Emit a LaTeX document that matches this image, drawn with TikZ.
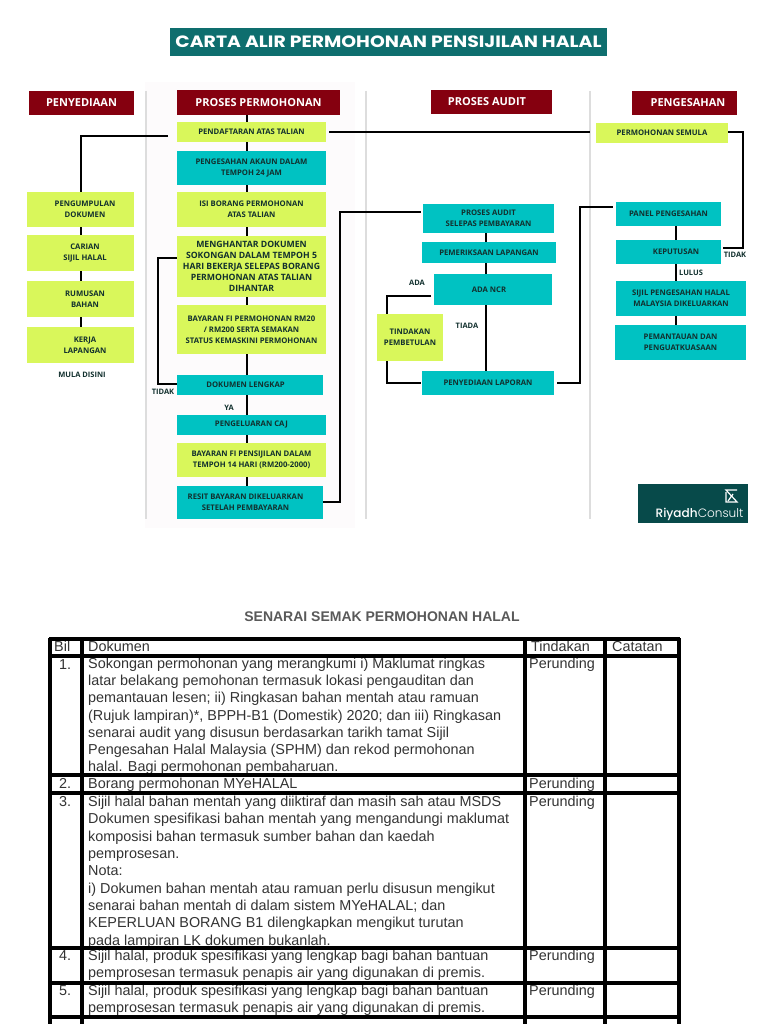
\documentclass[tikz,border=0pt]{standalone}
\usepackage{fontspec}
\setmainfont{Open Sans}
\newfontfamily\titlefont[FakeStretch=1.15]{Poppins}
\newfontfamily\logofont[UprightFont={* Light},BoldFont={* Medium}]{Poppins}
\newfontfamily\tablefont{Liberation Sans}
\definecolor{maroonbox}{HTML}{85000F}
\definecolor{titleteal}{HTML}{0E6E6E}
\definecolor{limebox}{HTML}{D9F75B}
\definecolor{cyanbox}{HTML}{00C2C2}
\definecolor{logoteal}{HTML}{074A4A}
\definecolor{darktext}{HTML}{12302E}
\definecolor{divider}{HTML}{DDDDDD}
\definecolor{panelback}{HTML}{FDFBFC}
\newcommand{\padr}[1]{\hspace*{#1}}
\tikzset{
  headbox/.style={fill=maroonbox,text=white,font=\bfseries\fontsize{11}{12}\selectfont,inner sep=0pt},
  flowbox/.style={text=darktext,font=\bfseries\fontsize{7.7}{11}\selectfont,align=center,inner sep=0pt},
  limestep/.style={flowbox,fill=limebox},
  cyanstep/.style={flowbox,fill=cyanbox},
  flowlabel/.style={text=darktext,font=\bfseries\fontsize{7.5}{9}\selectfont,inner sep=0pt},
  flowline/.style={line width=2pt,black},
  tabletext/.style={font=\tablefont\fontsize{14.4}{17.3}\selectfont,align=left,anchor=north west,inner sep=0pt,text opacity=0.8},
  tablehead/.style={tabletext,anchor=base west},
}
\begin{document}
\begin{tikzpicture}[x=1pt,y=-1pt]
    \useasboundingbox (0,0) rectangle (768,1024);
    \fill[white] (0,0) rectangle (768,1024);
    \fill[panelback] (145,82) rectangle (355,528);
    % dividers
    \foreach \x in {146,366,590}
        \draw[divider,line width=1.6pt] (\x,91) -- (\x,519);
    % title
    \node[fill=titleteal,text=white,font=\titlefont\bfseries\fontsize{16.4}{18}\selectfont,minimum width=437pt,minimum height=28pt,inner sep=0pt] (title) at (388.5,42) {CARTA ALIR PERMOHONAN PENSIJILAN HALAL};
    % headers
    \node[headbox,minimum width=105pt,minimum height=24pt] (penyediaan) at (81.5,103) {PENYEDIAAN};
    \node[headbox,minimum width=163pt,minimum height=25pt] (permohonan) at (258.5,102.5) {PROSES PERMOHONAN};
    \node[headbox,minimum width=121pt,minimum height=24pt] (audit) at (491.5,102) {PROSES AUDIT\padr{9pt}};
    \node[headbox,minimum width=105pt,minimum height=24pt] (pengesahan) at (684.5,103) {\padr{7pt}PENGESAHAN};
    % penyediaan
    \node[limestep,minimum width=107pt,minimum height=35pt] (pengumpulan) at (80.5,209.5) {\padr{9pt}PENGUMPULAN\\\padr{9pt}DOKUMEN};
    \node[limestep,minimum width=107pt,minimum height=36pt] (carian) at (80.5,253) {\padr{9pt}CARIAN\\\padr{9pt}SIJIL HALAL};
    \node[limestep,minimum width=107pt,minimum height=36pt] (rumusan) at (80.5,299) {\padr{9pt}RUMUSAN\\\padr{9pt}BAHAN};
    \node[limestep,minimum width=107pt,minimum height=36pt] (kerja) at (80.5,345) {\padr{9pt}KERJA\\\padr{9pt}LAPANGAN};
    \node[flowlabel] (mula) at (82,375) {MULA DISINI};
    % permohonan
    \node[limestep,minimum width=149pt,minimum height=20pt] (pendaftaran) at (251.5,132) {PENDAFTARAN ATAS TALIAN};
    \node[cyanstep,minimum width=149pt,minimum height=34pt] (akaun) at (251.5,168) {PENGESAHAN AKAUN DALAM\\TEMPOH 24 JAM};
    \node[limestep,minimum width=149pt,minimum height=35pt] (borang) at (251.5,209.5) {ISI BORANG PERMOHONAN\\ATAS TALIAN};
    \node[limestep,font=\bfseries\fontsize{8.7}{11}\selectfont,minimum width=149pt,minimum height=61pt] (menghantar) at (251.5,266.5) {MENGHANTAR DOKUMEN\\SOKONGAN DALAM TEMPOH 5\\HARI BEKERJA SELEPAS BORANG\\PERMOHONAN ATAS TALIAN\\DIHANTAR};
    \node[limestep,minimum width=149pt,minimum height=49pt] (bayaranfi) at (251.5,329.5) {BAYARAN FI PERMOHONAN RM20\\/ RM200 SERTA SEMAKAN\\STATUS KEMASKINI PERMOHONAN};
    \node[cyanstep,minimum width=146pt,minimum height=20pt] (lengkap) at (250,385) {DOKUMEN LENGKAP\padr{9pt}};
    \node[cyanstep,minimum width=149pt,minimum height=20pt] (caj) at (251.5,425) {PENGELUARAN CAJ};
    \node[limestep,minimum width=149pt,minimum height=34pt] (pensijilan) at (251.5,460) {BAYARAN FI PENSIJILAN DALAM\\TEMPOH 14 HARI (RM200-2000)};
    \node[cyanstep,minimum width=146pt,minimum height=33pt] (resit) at (250,502.5) {RESIT BAYARAN DIKELUARKAN\padr{9pt}\\SETELAH PEMBAYARAN\padr{9pt}};
    % audit
    \node[cyanstep,minimum width=131pt,minimum height=29pt] (selepas) at (488.5,218.5) {PROSES AUDIT\\SELEPAS PEMBAYARAN};
    \node[cyanstep,minimum width=134pt,minimum height=21pt] (pemeriksaan) at (489,252.5) {PEMERIKSAAN LAPANGAN};
    \node[cyanstep,minimum width=118pt,minimum height=31pt] (ncr) at (493,289.5) {ADA NCR\padr{8pt}};
    \node[limestep,minimum width=66pt,minimum height=47pt] (tindakan) at (410,337.5) {TINDAKAN\\PEMBETULAN};
    \node[cyanstep,minimum width=132pt,minimum height=24pt] (laporan) at (488,383) {PENYEDIAAN LAPORAN};
    % pengesahan
    \node[limestep,minimum width=132pt,minimum height=20pt] (semula) at (662,133) {PERMOHONAN SEMULA};
    \node[cyanstep,minimum width=105pt,minimum height=24pt] (panel) at (668.5,214) {PANEL PENGESAHAN};
    \node[cyanstep,minimum width=105pt,minimum height=24pt] (keputusan) at (668.5,252) {\padr{15pt}KEPUTUSAN};
    \node[cyanstep,minimum width=130pt,minimum height=35pt] (sijil) at (681,298.5) {SIJIL PENGESAHAN HALAL\\MALAYSIA DIKELUARKAN};
    \node[cyanstep,minimum width=131pt,minimum height=35pt] (pemantauan) at (680.5,342.5) {PEMANTAUAN DAN\\PENGUATKUASAAN};
    % labels
    \node[flowlabel] (tidaka) at (163,392) {TIDAK};
    \node[flowlabel] (ya) at (229,408) {YA};
    \node[flowlabel] (ada) at (417,283) {ADA};
    \node[flowlabel] (tiada) at (467,326) {TIADA};
    \node[flowlabel] (lulus) at (691,273) {LULUS};
    \node[flowlabel] (tidakb) at (735,255) {TIDAK};
    % connector columns and free ends
    \coordinate (spinea) at (81,0);
    \coordinate (spineb) at (246.5,0);
    \coordinate (spinec) at (486,0);
    \coordinate (spined) at (676,0);
    \coordinate (freea) at (168,136.5);
    \coordinate (cornera) at (81,136.5);
    \coordinate (freeb) at (329,132);
    \coordinate (freec) at (590,132);
    \coordinate (cornerc) at (743,132);
    \coordinate (freed) at (723,248);
    \coordinate (cornerd) at (743,248);
    \coordinate (cornere) at (158,258);
    \coordinate (cornerf) at (158,384);
    \coordinate (cornerg) at (340,502);
    \coordinate (cornerh) at (340,212.5);
    \coordinate (freeh) at (421,212.5);
    \coordinate (corneri) at (387,296);
    \coordinate (freei) at (431,296);
    \coordinate (cornerj) at (387,383);
    \coordinate (freej) at (421,383);
    \coordinate (freek) at (557,383);
    \coordinate (cornerk) at (580,383);
    \coordinate (cornerl) at (580,207);
    \coordinate (freel) at (613,207);
    \foreach \a/\b in {pengumpulan/carian,carian/rumusan,rumusan/kerja}
        \draw[flowline] (\a.south -| spinea) -- (\b.north -| spinea);
    \foreach \a/\b in {permohonan/pendaftaran,pendaftaran/akaun,akaun/borang,borang/menghantar,menghantar/bayaranfi,bayaranfi/lengkap,lengkap/caj,caj/pensijilan,pensijilan/resit}
        \draw[flowline] (\a.south -| spineb) -- (\b.north -| spineb);
    \foreach \a/\b in {selepas/pemeriksaan,pemeriksaan/ncr,ncr/laporan}
        \draw[flowline] (\a.south -| spinec) -- (\b.north -| spinec);
    \foreach \a/\b in {panel/keputusan,keputusan/sijil,sijil/pemantauan}
        \draw[flowline] (\a.south -| spined) -- (\b.north -| spined);
    \draw[flowline] (freea) -- (cornera) -- (pengumpulan.north -| cornera);
    \draw[flowline] (freeb) -- (freec);
    \draw[flowline] (semula.east |- cornerc) -- (cornerc) -- (cornerd) -- (freed);
    \draw[flowline] (menghantar.west |- cornere) -- (cornere) -- (cornerf) -- (lengkap.west |- cornerf);
    \draw[flowline] (resit.east |- cornerg) -- (cornerg) -- (cornerh) -- (freeh);
    \draw[flowline] (freei) -- (corneri) -- (tindakan.north -| corneri);
    \draw[flowline] (tindakan.south -| corneri) -- (cornerj) -- (freej);
    \draw[flowline] (freek) -- (cornerk) -- (cornerl) -- (freel);
    % logo
    \fill[logoteal] (638,484) rectangle (748,523);
    \draw[white,line width=1.2pt] (737,490) -- (726,490) -- (737,502) -- (726,502) -- (726,492);
    \draw[white,line width=1.2pt] (733,494) -- (728,501);
    \node[text=white,font=\logofont\fontsize{12.1}{14}\selectfont,inner sep=0pt] (riyadh) at (699.5,514) {\textbf{Riyadh}Consult};
    % table
    \node[text=black,text opacity=0.65,font=\tablefont\bfseries\fontsize{14}{16}\selectfont,inner sep=0pt] (senarai) at (382,617) {SENARAI SEMAK PERMOHONAN HALAL};
    \foreach \y in {639,656,775,793,948,983,1017}
        \draw[black,line width=3.2pt] (49,\y) -- (680,\y);
    \foreach \x in {50,82,525,605,679}
        \draw[black,line width=3.2pt] (\x,638) -- (\x,1024);
    \node[tablehead] (hbil) at (54,651) {Bil};
    \node[tablehead] (hdok) at (88,651) {Dokumen};
    \node[tablehead] (htin) at (531,651) {Tindakan};
    \node[tablehead] (hcat) at (612,651) {Catatan};
    \node[tabletext] (bila) at (59,659) {1.};
    \node[tabletext] (doka) at (88,657.5) {Sokongan permohonan yang merangkumi i) Maklumat ringkas\\latar belakang pemohonan termasuk lokasi pengauditan dan\\pemantauan lesen; ii) Ringkasan bahan mentah atau ramuan\\(Rujuk lampiran)*, BPPH-B1 (Domestik) 2020; dan iii) Ringkasan\\senarai audit yang disusun berdasarkan tarikh tamat Sijil\\Pengesahan Halal Malaysia (SPHM) dan rekod permohonan\\halal. Bagi permohonan pembaharuan.};
    \node[tabletext] (tina) at (529,657.5) {Perunding};
    \node[tabletext] (bilb) at (59,778) {2.};
    \node[tabletext] (dokb) at (88,778) {Borang permohonan MYeHALAL};
    \node[tabletext] (tinb) at (529,778) {Perunding};
    \node[tabletext] (bilc) at (59,796) {3.};
    \node[tabletext] (dokc) at (88,796) {Sijil halal bahan mentah yang diiktiraf dan masih sah atau MSDS\\Dokumen spesifikasi bahan mentah yang mengandungi maklumat\\komposisi bahan termasuk sumber bahan dan kaedah\\pemprosesan.\\Nota:\\i) Dokumen bahan mentah atau ramuan perlu disusun mengikut\\senarai bahan mentah di dalam sistem MYeHALAL; dan\\KEPERLUAN BORANG B1 dilengkapkan mengikut turutan\\pada lampiran LK dokumen bukanlah.};
    \node[tabletext] (tinc) at (529,796) {Perunding};
    \node[tabletext] (bild) at (59,950) {4.};
    \node[tabletext] (dokd) at (88,950) {Sijil halal, produk spesifikasi yang lengkap bagi bahan bantuan\\pemprosesan termasuk penapis air yang digunakan di premis.};
    \node[tabletext] (tind) at (529,950) {Perunding};
    \node[tabletext] (bile) at (59,985) {5.};
    \node[tabletext] (doke) at (88,985) {Sijil halal, produk spesifikasi yang lengkap bagi bahan bantuan\\pemprosesan termasuk penapis air yang digunakan di premis.};
    \node[tabletext] (tine) at (529,985) {Perunding};
\end{tikzpicture}
\end{document}
